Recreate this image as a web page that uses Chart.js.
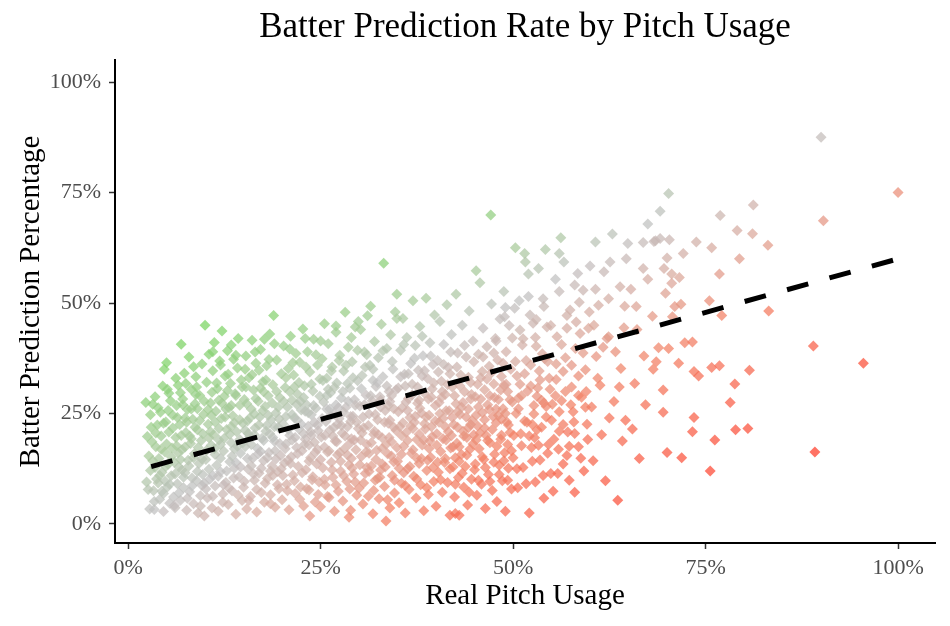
<!DOCTYPE html>
<html>
<head>
<meta charset="utf-8">
<script src="https://cdn.jsdelivr.net/npm/chart.js@4/dist/chart.umd.min.js"></script>
<style>
  body { margin: 0; background: #fff; }
</style>
</head>
<body>
<canvas id="scatter" width="950" height="626"></canvas>
<script>
// [real usage %, batter prediction %], grouped by usage band
const usage0to6 = [[2.3,27.5],[2.6,7.8],[2.8,3.4],[2.9,12.1],[3.1,18.6],[3.2,27.1],[3.3,7.5],[3.4,3.3],[3.5,28.8],[3.6,17.5],[3.7,10.2],[3.8,22.4],[3.9,9.3],[4.0,14.8],[4.1,5.6],[4.2,25.3],[4.3,19.9],[4.4,11.7],[4.5,31.2],[4.6,6.9],[4.7,35.0],[4.8,16.3],[4.9,23.1],[5.0,36.5],[5.1,8.4],[5.2,13.5],[5.3,20.8],[5.4,4.7],[5.5,27.9],[5.6,10.9],[5.7,17.2],[5.8,24.6],[5.9,6.1],[6.0,14.0],[2.7,15.4],[3.0,21.9],[4.6,2.8],[5.3,29.6],[3.5,12.8],[4.8,9.7]];
const usage6to10 = [[6.1,3.7],[6.2,19.6],[6.3,26.8],[6.4,9.1],[6.5,31.4],[6.6,12.9],[6.7,22.5],[6.8,5.4],[6.9,40.7],[7.0,16.8],[7.1,28.3],[7.2,8.2],[7.3,34.1],[7.4,11.6],[7.5,20.7],[7.6,3.1],[7.7,25.9],[7.8,14.4],[7.9,37.8],[8.0,7.3],[8.1,18.2],[8.2,30.5],[8.3,10.4],[8.4,23.7],[8.5,4.6],[8.6,15.9],[8.7,27.2],[8.8,33.3],[8.9,9.8],[9.0,21.3],[9.1,2.5],[9.2,13.7],[9.3,29.1],[9.4,6.4],[9.5,18.9],[9.6,36.2],[9.7,11.2],[9.8,24.8],[9.9,1.8],[10.0,45.0],[6.5,16.1],[7.4,24.0],[8.2,19.3],[9.0,26.1],[9.6,8.7],[7.0,12.2],[8.5,35.6],[6.8,29.7]];
const usage10to15 = [[10.1,14.6],[10.2,32.1],[10.3,5.9],[10.4,22.6],[10.5,38.4],[10.6,10.1],[10.7,27.4],[10.8,17.8],[10.9,3.6],[11.0,34.7],[11.1,20.2],[11.2,41.1],[11.3,8.6],[11.4,25.5],[11.5,13.3],[11.6,30.6],[11.7,2.9],[11.8,19.0],[11.9,36.9],[12.0,11.8],[12.1,23.9],[12.2,43.7],[12.3,6.8],[12.4,16.5],[12.5,28.9],[12.6,33.5],[12.7,9.4],[12.8,21.4],[12.9,39.2],[13.0,4.4],[13.1,26.3],[13.2,14.1],[13.3,31.8],[13.4,18.4],[13.5,7.5],[13.6,24.5],[13.7,37.3],[13.8,12.6],[13.9,29.5],[14.0,2.2],[14.1,20.9],[14.2,35.3],[14.3,42.0],[14.4,10.7],[14.5,26.9],[14.6,16.0],[14.7,32.6],[14.8,5.3],[14.9,22.8],[10.5,19.5],[11.3,15.7],[12.0,18.0],[12.7,26.0],[13.4,22.0],[14.0,13.9],[11.8,28.0],[13.0,33.9],[10.8,24.6],[12.4,8.9],[14.5,19.1],[11.0,11.0],[13.8,17.0]];
const usage15to20 = [[15.0,8.3],[15.1,28.2],[15.2,17.5],[15.3,38.0],[15.4,3.4],[15.5,23.3],[15.6,12.4],[15.7,33.1],[15.8,19.8],[15.9,6.2],[16.0,26.0],[16.1,41.6],[16.2,14.9],[16.3,30.3],[16.4,9.9],[16.5,21.7],[16.6,36.4],[16.7,2.7],[16.8,17.1],[16.9,27.8],[17.0,11.5],[17.1,24.2],[17.2,39.5],[17.3,7.1],[17.4,19.4],[17.5,32.2],[17.6,14.3],[17.7,4.9],[17.8,26.6],[17.9,21.0],[18.0,35.8],[18.1,10.3],[18.2,29.0],[18.3,16.2],[18.4,43.0],[18.5,6.6],[18.6,23.6],[18.7,13.1],[18.8,31.5],[18.9,47.2],[19.0,18.7],[19.1,3.8],[19.2,25.1],[19.3,37.1],[19.4,11.9],[19.5,21.9],[19.6,8.0],[19.7,28.6],[19.8,15.5],[19.9,34.0],[15.6,20.5],[16.4,24.9],[17.2,16.4],[18.0,22.3],[18.8,19.6],[19.5,26.4],[16.0,13.2],[17.6,29.9],[18.5,12.0],[19.2,14.7],[15.3,31.0],[17.0,34.8]];
const usage20to25 = [[20.0,5.5],[20.1,22.7],[20.2,40.3],[20.3,13.8],[20.4,30.9],[20.5,18.1],[20.6,9.0],[20.7,26.5],[20.8,35.2],[20.9,3.2],[21.0,20.1],[21.1,42.5],[21.2,15.2],[21.3,28.0],[21.4,11.1],[21.5,33.7],[21.6,24.0],[21.7,6.9],[21.8,38.6],[21.9,17.3],[22.0,29.4],[22.1,13.0],[22.2,21.5],[22.3,36.6],[22.4,8.4],[22.5,25.8],[22.6,16.6],[22.7,44.1],[22.8,4.1],[22.9,31.3],[23.0,19.2],[23.1,12.3],[23.2,27.0],[23.3,39.0],[23.4,22.1],[23.5,7.7],[23.6,1.8],[23.6,34.4],[23.7,15.0],[23.8,24.7],[23.9,10.0],[24.0,30.1],[24.1,41.8],[24.2,18.5],[24.3,5.0],[24.4,26.2],[24.5,13.6],[24.6,36.0],[24.7,21.1],[24.8,9.5],[24.9,32.8],[20.5,24.3],[21.3,19.0],[22.0,23.5],[22.8,20.4],[23.5,17.9],[24.2,23.0],[20.8,14.4],[21.6,31.0],[22.4,27.7],[23.0,25.5],[23.8,20.0],[24.6,16.9]];
const usage25to30 = [[25.0,3.9],[25.1,19.7],[25.2,37.4],[25.3,12.7],[25.4,27.6],[25.5,45.3],[25.6,8.8],[25.7,23.2],[25.8,33.0],[25.9,16.3],[26.0,40.8],[26.1,6.0],[26.2,21.2],[26.3,29.7],[26.4,14.0],[26.5,35.5],[26.6,10.6],[26.7,25.0],[26.8,2.9],[26.9,18.8],[27.0,43.4],[27.1,31.9],[27.2,15.6],[27.3,7.4],[27.4,23.8],[27.5,38.2],[27.6,12.0],[27.7,28.5],[27.8,20.6],[27.9,5.2],[28.0,34.6],[28.1,17.0],[28.2,47.9],[28.3,26.4],[28.4,9.7],[28.5,22.0],[28.6,40.0],[28.7,1.5],[28.7,13.4],[28.8,30.7],[28.9,3.1],[29.0,19.3],[29.1,36.7],[29.2,24.4],[29.3,11.3],[29.4,28.1],[29.5,44.6],[29.6,16.8],[29.7,6.5],[29.8,32.4],[29.9,21.6],[29.9,45.8],[25.8,26.0],[26.6,19.9],[27.2,22.6],[28.0,25.3],[28.8,18.2],[29.5,26.9],[26.0,30.5],[27.5,16.2],[28.5,31.8],[29.0,14.8],[25.5,17.4],[27.0,27.0],[26.3,24.5],[28.9,23.2]];
const usage30to35 = [[30.0,8.1],[30.1,26.7],[30.2,44.0],[30.3,15.3],[30.4,33.6],[30.5,4.5],[30.6,21.8],[30.7,38.9],[30.8,11.4],[30.9,29.2],[31.0,18.0],[31.1,47.1],[31.2,6.3],[31.3,24.9],[31.4,35.9],[31.5,49.3],[31.6,13.1],[31.7,27.9],[31.8,2.3],[31.9,20.3],[32.0,41.3],[32.1,9.9],[32.2,31.1],[32.3,16.7],[32.4,23.6],[32.5,37.6],[32.6,5.7],[32.7,28.8],[32.8,12.2],[32.9,45.2],[33.0,19.5],[33.1,33.3],[33.2,59.0],[33.3,8.5],[33.4,25.7],[33.5,0.7],[33.6,39.7],[33.7,15.9],[33.8,22.8],[33.9,30.0],[34.0,3.6],[34.1,42.8],[34.2,18.6],[34.3,11.0],[34.4,35.1],[34.5,26.1],[34.6,7.0],[34.7,48.0],[34.8,21.2],[34.9,52.0],[34.9,46.5],[30.5,24.2],[31.3,16.0],[32.0,21.0],[32.8,26.5],[33.5,18.0],[34.2,29.0],[30.8,35.5],[31.8,32.5],[33.0,13.6],[34.5,14.1],[30.2,19.0],[32.4,10.3],[33.8,26.8],[31.0,12.8],[34.0,23.5]];
const usage35to40 = [[35.0,14.2],[35.1,30.8],[35.2,4.8],[35.3,22.0],[35.4,39.3],[35.5,9.2],[35.6,26.3],[35.7,46.5],[35.8,17.6],[35.9,33.9],[36.0,2.5],[36.1,20.7],[36.2,42.2],[36.3,12.5],[36.4,28.4],[36.5,7.8],[36.6,24.1],[36.7,36.3],[36.8,16.0],[36.9,31.6],[37.0,50.5],[37.1,10.8],[37.2,23.0],[37.3,40.4],[37.4,5.9],[37.5,19.1],[37.6,27.3],[37.7,34.8],[37.8,13.7],[37.9,44.7],[38.0,8.9],[38.1,25.1],[38.2,17.9],[38.3,38.1],[38.4,3.0],[38.5,29.6],[38.6,21.5],[38.7,51.1],[38.8,12.1],[38.9,32.9],[39.0,6.7],[39.1,24.6],[39.2,41.0],[39.3,15.1],[39.4,28.7],[39.5,19.8],[39.6,36.1],[39.7,9.6],[39.8,47.3],[39.9,23.3],[35.5,20.0],[36.3,25.7],[37.0,21.6],[37.8,28.0],[38.5,22.7],[39.2,18.8],[36.0,31.2],[37.5,14.9],[38.2,33.5],[39.5,30.6],[35.8,11.6],[38.9,14.4]];
const usage40to45 = [[40.0,4.0],[40.1,20.4],[40.2,37.0],[40.3,11.7],[40.4,27.5],[40.5,45.8],[40.6,16.4],[40.7,32.3],[40.8,7.2],[40.9,23.9],[41.0,40.6],[41.1,13.9],[41.2,29.3],[41.3,19.0],[41.4,49.6],[41.5,9.4],[41.6,35.4],[41.7,25.6],[41.8,2.0],[41.9,17.2],[42.0,42.9],[42.1,31.0],[42.2,12.9],[42.3,22.5],[42.4,6.1],[42.5,2.4],[42.6,52.0],[42.6,27.2],[42.7,18.3],[42.8,38.7],[42.9,10.5],[43.0,2.0],[43.1,24.8],[43.2,33.7],[43.3,15.7],[43.4,45.0],[43.5,21.0],[43.6,8.3],[43.7,29.9],[43.8,13.0],[43.9,37.8],[44.0,19.6],[44.1,4.3],[44.2,26.0],[44.3,48.2],[44.4,16.9],[44.5,32.0],[44.6,10.1],[44.7,23.4],[44.8,41.4],[44.9,20.2],[40.5,25.0],[41.2,22.0],[42.0,20.0],[42.8,25.4],[43.5,27.5],[44.2,21.8],[40.8,30.0],[41.8,34.0],[43.0,17.5],[44.5,28.3],[42.5,15.0],[40.2,14.0]];
const usage45to50 = [[45.0,12.3],[45.1,28.8],[45.2,57.3],[45.3,6.5],[45.4,22.2],[45.5,38.4],[45.6,17.0],[45.7,54.6],[45.8,33.1],[45.9,9.0],[46.0,25.2],[46.1,44.3],[46.2,14.6],[46.3,30.4],[46.4,3.5],[46.5,20.0],[46.6,40.1],[46.7,27.0],[46.8,11.2],[46.9,35.7],[47.0,18.4],[47.1,69.9],[47.2,49.8],[47.3,7.6],[47.4,24.3],[47.5,31.7],[47.6,15.8],[47.7,42.0],[47.8,22.9],[47.9,5.1],[48.0,37.1],[48.1,28.2],[48.2,13.3],[48.3,46.4],[48.4,19.2],[48.5,33.4],[48.6,9.8],[48.7,26.1],[48.8,52.6],[48.9,16.1],[49.0,2.9],[49.1,39.0],[49.2,23.1],[49.3,30.0],[49.4,12.6],[49.5,44.9],[49.6,20.7],[49.7,35.0],[49.8,7.9],[49.9,27.6],[45.5,26.5],[46.3,21.7],[47.0,29.0],[47.8,26.0],[48.5,23.7],[49.3,18.0],[46.0,34.5],[47.5,38.7],[48.8,31.4],[45.2,19.0],[49.0,49.0],[48.9,46.9]];
const usage50to55 = [[50.0,15.0],[50.2,48.8],[50.3,62.5],[50.4,25.0],[50.5,33.5],[50.6,8.2],[50.8,50.5],[50.9,43.9],[51.0,20.4],[51.1,29.0],[51.3,12.8],[51.5,61.2],[51.6,59.3],[51.7,37.0],[51.8,23.0],[52.0,56.6],[52.1,2.5],[52.2,47.3],[52.3,31.2],[52.4,17.3],[52.6,45.4],[52.7,26.8],[52.9,9.5],[53.0,40.2],[53.1,21.3],[53.3,57.8],[53.4,34.6],[53.5,14.5],[53.7,28.0],[53.9,51.0],[54.0,5.8],[54.2,62.1],[54.3,24.2],[54.4,44.6],[54.5,36.8],[54.6,18.0],[54.8,30.5],[54.9,11.4],[50.7,28.5],[51.5,34.0],[52.5,22.5],[53.2,30.8],[54.0,27.4],[51.2,40.5],[53.8,38.5],[52.8,19.5]];
const usage55to60 = [[55.0,23.5],[55.2,7.4],[55.5,55.4],[55.6,32.7],[55.7,42.4],[55.9,16.9],[56.0,61.2],[56.2,64.8],[56.3,27.9],[56.5,13.6],[56.6,59.3],[56.8,37.6],[57.0,44.3],[57.1,20.8],[57.3,9.9],[57.4,48.4],[57.6,31.0],[57.8,25.4],[58.0,7.2],[58.1,39.7],[58.4,56.7],[58.5,17.5],[58.6,50.2],[58.7,43.1],[58.9,28.7],[59.1,52.9],[59.2,12.0],[59.4,34.9],[59.6,22.6],[59.8,44.3],[59.9,48.0],[55.5,29.0],[56.5,34.5],[57.5,27.0],[58.5,33.5],[59.5,30.0],[56.0,21.0],[58.0,20.5],[57.0,15.5]];
const usage60to70 = [[60.0,58.4],[60.2,26.5],[60.4,14.3],[60.7,63.8],[60.7,53.1],[60.8,37.9],[61.1,49.5],[61.3,31.4],[61.5,20.2],[61.8,57.1],[62.0,9.8],[62.2,42.0],[62.4,51.0],[62.4,42.4],[62.6,59.3],[62.9,65.6],[63.1,27.7],[63.6,5.4],[63.9,53.7],[64.0,35.2],[64.4,44.4],[64.5,49.3],[64.7,60.0],[64.9,63.5],[64.2,18.8],[63.3,39.0],[61.0,33.0],[62.5,24.0],[60.5,45.0],[63.8,31.0],[61.7,40.0],[64.6,23.5],[65.3,53.1],[65.5,21.5],[65.8,31.8],[66.0,49.2],[66.1,44.0],[66.4,14.8],[66.9,63.7],[66.9,57.8],[67.0,38.0],[67.2,27.0],[67.5,67.9],[67.5,55.4],[68.1,47.0],[68.2,35.0],[68.3,63.9],[68.5,64.1],[68.6,36.7],[68.9,39.9],[69.1,70.8],[69.1,64.6],[69.5,30.3],[69.5,25.3],[69.6,57.8],[69.8,52.2],[70.0,60.2],[70.0,16.2]];
const usage70to100 = [[70.2,74.8],[70.3,64.3],[70.2,39.7],[70.6,56.6],[70.6,54.5],[70.7,46.9],[71.0,49.2],[71.5,36.4],[71.6,55.8],[71.8,49.7],[71.9,15.0],[72.1,61.2],[72.3,41.0],[73.3,41.2],[73.3,20.9],[73.5,34.5],[73.5,24.1],[73.8,63.8],[74.1,33.5],[75.5,50.5],[75.6,12.0],[75.8,62.5],[75.8,35.4],[76.2,19.0],[76.8,56.6],[76.8,35.8],[76.9,69.8],[77.1,47.2],[78.2,27.5],[78.8,31.7],[78.9,21.3],[79.1,66.4],[79.4,60.0],[80.5,21.6],[80.7,34.8],[81.1,65.7],[81.2,72.2],[83.1,63.1],[83.2,48.2],[89.0,40.3],[89.2,16.3],[90.0,87.5],[90.3,68.6],[95.5,36.4],[100.0,75.0]];

// the packed middle of the cloud
const core0to10 = [[2.4,9.5],[2.5,19.8],[2.9,24.7],[3.2,14.3],[3.4,5.1],[3.6,20.6],[3.9,26.3],[4.1,11.0],[4.3,16.9],[4.4,7.4],[4.6,22.8],[4.9,13.0],[5.0,18.1],[5.2,25.7],[5.4,9.0],[5.6,15.2],[5.8,21.7],[6.0,4.2],[6.1,11.3],[6.3,17.7],[6.4,24.1],[6.6,7.0],[6.8,14.6],[6.9,20.0],[7.1,27.0],[7.2,10.6],[7.4,17.4],[7.6,23.0],[7.7,5.8],[7.9,13.1],[8.0,19.9],[8.2,26.0],[8.3,8.6],[8.5,15.0],[8.7,21.9],[8.8,29.3],[9.0,11.9],[9.1,17.3],[9.3,23.4],[9.4,4.1],[9.6,14.7],[9.7,20.4],[9.9,27.8],[9.9,9.2],[5.1,30.5],[7.5,31.8],[8.9,31.0],[6.2,33.0]];
const core10to20 = [[10.1,7.9],[10.2,16.7],[10.4,25.9],[10.5,12.4],[10.7,20.9],[10.9,29.8],[11.0,6.3],[11.2,17.0],[11.3,23.1],[11.5,31.9],[11.7,10.8],[11.8,21.6],[12.0,14.9],[12.2,27.3],[12.3,4.9],[12.5,19.4],[12.6,24.2],[12.8,12.0],[12.9,30.2],[13.1,8.1],[13.2,20.3],[13.4,26.8],[13.5,15.4],[13.7,10.4],[13.8,22.9],[14.0,29.1],[14.2,17.6],[14.3,6.5],[14.5,23.6],[14.6,12.9],[14.8,31.0],[14.9,18.4],[15.1,9.6],[15.2,21.2],[15.4,27.2],[15.5,14.8],[15.7,5.3],[15.8,24.0],[16.0,18.0],[16.1,33.8],[16.3,11.3],[16.4,20.2],[16.6,28.4],[16.7,7.8],[16.9,15.9],[17.0,22.4],[17.2,30.8],[17.3,12.6],[17.5,25.6],[17.6,18.9],[17.8,9.2],[17.9,32.6],[18.1,15.0],[18.2,24.6],[18.4,20.4],[18.5,4.6],[18.7,27.4],[18.8,11.0],[19.0,22.0],[19.1,16.6],[19.3,30.0],[19.4,8.9],[19.6,23.8],[19.7,18.2],[19.9,12.5],[12.0,36.0],[14.0,38.2],[16.5,38.9],[18.3,37.2],[11.0,39.0],[13.4,40.5],[15.2,35.0],[17.7,41.8],[19.0,40.8]];
const core20to30 = [[20.1,11.0],[20.2,27.7],[20.4,17.0],[20.5,33.1],[20.7,7.5],[20.8,21.4],[21.0,29.9],[21.1,13.7],[21.3,24.8],[21.4,36.5],[21.6,9.8],[21.7,19.6],[21.9,27.1],[22.0,15.9],[22.2,32.0],[22.3,5.6],[22.5,22.6],[22.6,11.6],[22.8,28.6],[22.9,18.0],[23.1,35.5],[23.2,8.0],[23.4,25.2],[23.5,14.2],[23.7,20.8],[23.8,31.6],[24.0,10.7],[24.1,26.8],[24.3,16.2],[24.4,38.3],[24.6,22.4],[24.7,6.7],[24.9,28.9],[25.0,14.6],[25.2,23.9],[25.3,32.5],[25.5,10.1],[25.6,20.0],[25.8,29.1],[25.9,6.2],[26.1,16.5],[26.2,26.0],[26.4,34.6],[26.5,12.3],[26.7,21.8],[26.8,30.9],[27.0,8.8],[27.1,18.6],[27.3,26.3],[27.4,37.0],[27.6,14.2],[27.7,22.3],[27.9,30.0],[28.0,10.9],[28.2,19.9],[28.3,35.9],[28.5,15.6],[28.6,27.8],[28.8,7.9],[28.9,24.3],[29.1,12.6],[29.2,33.1],[29.4,19.0],[29.5,9.5],[29.7,23.0],[29.8,39.3],[21.0,39.6],[23.0,42.0],[25.0,41.4],[27.0,44.8],[29.0,42.2]];
const core30to40 = [[30.1,13.4],[30.3,30.6],[30.4,20.6],[30.6,9.3],[30.7,27.0],[30.9,16.3],[31.0,38.3],[31.2,22.3],[31.3,11.9],[31.5,29.0],[31.6,18.4],[31.8,35.0],[31.9,7.6],[32.1,24.8],[32.2,14.6],[32.4,32.0],[32.5,20.2],[32.7,10.6],[32.8,28.0],[33.0,17.1],[33.1,39.2],[33.3,23.0],[33.4,12.9],[33.6,31.2],[33.7,5.5],[33.9,19.6],[34.0,27.7],[34.2,15.4],[34.3,36.8],[34.5,21.9],[34.6,9.9],[34.8,30.4],[34.9,17.3],[35.1,25.4],[35.2,12.6],[35.4,33.3],[35.5,15.8],[35.7,22.9],[35.8,40.6],[36.0,8.7],[36.1,27.6],[36.3,18.9],[36.4,34.0],[36.6,13.0],[36.7,22.1],[36.9,29.2],[37.0,16.8],[37.2,37.5],[37.3,24.4],[37.5,10.2],[37.6,31.0],[37.8,20.3],[37.9,26.2],[38.1,14.8],[38.2,42.5],[38.4,19.0],[38.5,34.7],[38.7,24.2],[38.8,8.2],[39.0,28.3],[39.1,17.1],[39.3,38.0],[39.4,22.0],[39.6,12.8],[39.7,31.9],[39.9,26.8]];
const core40to50 = [[40.1,17.8],[40.3,34.4],[40.4,23.0],[40.6,10.0],[40.7,28.6],[40.9,19.3],[41.0,36.1],[41.2,14.8],[41.3,25.6],[41.5,31.5],[41.6,20.9],[41.8,12.5],[41.9,38.9],[42.1,24.1],[42.2,17.4],[42.4,29.0],[42.5,9.0],[42.7,35.5],[42.8,21.9],[43.0,14.2],[43.1,31.2],[43.3,26.4],[43.4,11.5],[43.6,19.9],[43.7,40.4],[43.9,24.2],[44.0,15.6],[44.2,33.2],[44.3,7.2],[44.5,22.5],[44.6,29.3],[44.8,18.1],[44.9,36.7],[45.1,13.6],[45.2,24.6],[45.4,31.6],[45.5,9.9],[45.7,20.6],[45.8,28.3],[46.0,15.2],[46.1,37.8],[46.3,23.6],[46.4,12.8],[46.6,32.8],[46.7,18.9],[46.9,25.9],[47.0,9.6],[47.2,34.2],[47.3,21.4],[47.5,14.0],[47.6,28.6],[47.8,41.4],[47.9,17.6],[48.1,24.6],[48.2,11.2],[48.4,30.3],[48.5,20.1],[48.7,36.4],[48.8,14.3],[49.0,25.0],[49.1,31.6],[49.3,9.9],[49.4,22.4],[49.6,28.1],[49.8,16.6],[49.9,42.1]];
const core50to60 = [[50.1,20.0],[50.3,36.8],[50.5,12.5],[50.7,26.1],[50.9,31.6],[51.1,17.7],[51.3,41.9],[51.5,23.3],[51.7,9.1],[51.9,30.1],[52.1,19.9],[52.3,36.0],[52.5,14.2],[52.7,24.9],[52.9,42.2],[53.1,28.9],[53.3,17.8],[53.5,32.6],[53.7,21.9],[53.9,11.0],[54.1,37.4],[54.3,26.6],[54.5,16.0],[54.7,33.0],[54.9,44.9],[55.1,27.1],[55.3,19.2],[55.6,36.2],[55.8,11.4],[56.0,25.4],[56.3,40.6],[56.5,22.5],[56.8,30.0],[57.0,47.2],[57.3,17.6],[57.6,35.9],[57.9,23.1],[58.2,45.7],[58.5,29.1],[58.8,14.9],[59.1,38.7],[59.4,26.4],[59.7,19.1],[52.0,51.5],[54.0,49.2],[56.0,52.6],[58.0,54.1],[53.0,46.3]];

// fitted trend line (dashed)
const trendUsage = [3, 100];
const trendPrediction = [13, 60];

const tickValues = [0, 25, 50, 75, 100];

const allPoints = [].concat(usage0to6, usage6to10, usage10to15, usage15to20, usage20to25,
  usage25to30, usage30to35, usage35to40, usage40to45, usage45to50,
  usage50to55, usage55to60, usage60to70, usage70to100,
  core0to10, core10to20, core20to30, core30to40, core40to50, core50to60).map(p => ({x: p[0], y: p[1]}));

// colour by prediction minus usage: green above, grey around zero, salmon/red below
const colourStops = [
  [-70, [255, 60, 40]],
  [-30, [242, 128, 100]],
  [-15, [218, 168, 156]],
  [0, [192, 192, 192]],
  [12, [168, 202, 155]],
  [35, [120, 212, 95]]
];
function pointColour(ctx) {
  const p = ctx.raw;
  if (!p) return 'rgba(192,192,192,0.72)';
  const d = Math.max(-70, Math.min(35, p.y - p.x));
  let i = 0;
  while (i < colourStops.length - 2 && d > colourStops[i + 1][0]) i++;
  const [d0, c0] = colourStops[i], [d1, c1] = colourStops[i + 1];
  const t = (d - d0) / (d1 - d0);
  const c = c0.map((v, k) => Math.round(v + (c1[k] - v) * t));
  return 'rgba(' + c[0] + ',' + c[1] + ',' + c[2] + ',0.72)';
}

const serif = "'Liberation Serif', 'DejaVu Serif', serif";

const titlePlugin = {
  id: 'plotTitle',
  afterDraw(chart) {
    const c = chart.ctx, a = chart.chartArea;
    c.save();
    c.font = '35px ' + serif;
    c.fillStyle = '#000';
    c.textAlign = 'center';
    c.textBaseline = 'middle';
    c.fillText('Batter Prediction Rate by Pitch Usage', (a.left + a.right) / 2, 28);
    c.restore();
  }
};

new Chart(document.getElementById('scatter'), {
  type: 'scatter',
  data: {
    datasets: [{
      label: 'trend',
      data: trendUsage.map((x, i) => ({x: x, y: trendPrediction[i]})),
      showLine: true,
      borderColor: '#000',
      borderWidth: 5,
      borderDash: [22, 22],
      pointRadius: 0,
      fill: false
    }, {
      label: 'pitches',
      data: allPoints,
      pointStyle: 'rectRot',
      pointRadius: 5.5,
      pointHoverRadius: 5.5,
      borderWidth: 0,
      backgroundColor: pointColour
    }]
  },
  plugins: [titlePlugin],
  options: {
    responsive: false,
    animation: false,
    devicePixelRatio: 1,
    events: [],
    layout: { padding: { top: 60, right: 15, left: 0, bottom: 0 } },
    plugins: {
      legend: { display: false },
      title: { display: false },
      tooltip: { enabled: false }
    },
    scales: {
      x: {
        type: 'linear',
        min: -1.7,
        max: 104.8,
        afterBuildTicks: s => { s.ticks = tickValues.map(v => ({value: v})); },
        afterFit: s => { s.height = 83; },
        grid: { drawOnChartArea: false, drawTicks: true, tickLength: 6, tickColor: '#333', tickWidth: 1.5 },
        border: { display: true, color: '#000', width: 2 },
        ticks: {
          color: '#4d4d4d',
          padding: 6,
          maxRotation: 0,
          font: { family: serif, size: 22 },
          callback: v => v + '%'
        },
        title: {
          display: true,
          text: 'Real Pitch Usage',
          color: '#000',
          font: { family: serif, size: 29 },
          padding: { bottom: 12 }
        }
      },
      y: {
        type: 'linear',
        min: -4.3,
        max: 105,
        afterBuildTicks: s => { s.ticks = tickValues.map(v => ({value: v})); },
        afterFit: s => { s.width = 115; },
        grid: { drawOnChartArea: false, drawTicks: true, tickLength: 6, tickColor: '#333', tickWidth: 1.5 },
        border: { display: true, color: '#000', width: 2 },
        ticks: {
          color: '#4d4d4d',
          padding: 8,
          font: { family: serif, size: 22 },
          callback: v => v + '%'
        },
        title: {
          display: true,
          text: 'Batter Prediction Percentage',
          color: '#000',
          font: { family: serif, size: 29 },
          padding: { top: 14 }
        }
      }
    }
  }
});
</script>
</body>
</html>
